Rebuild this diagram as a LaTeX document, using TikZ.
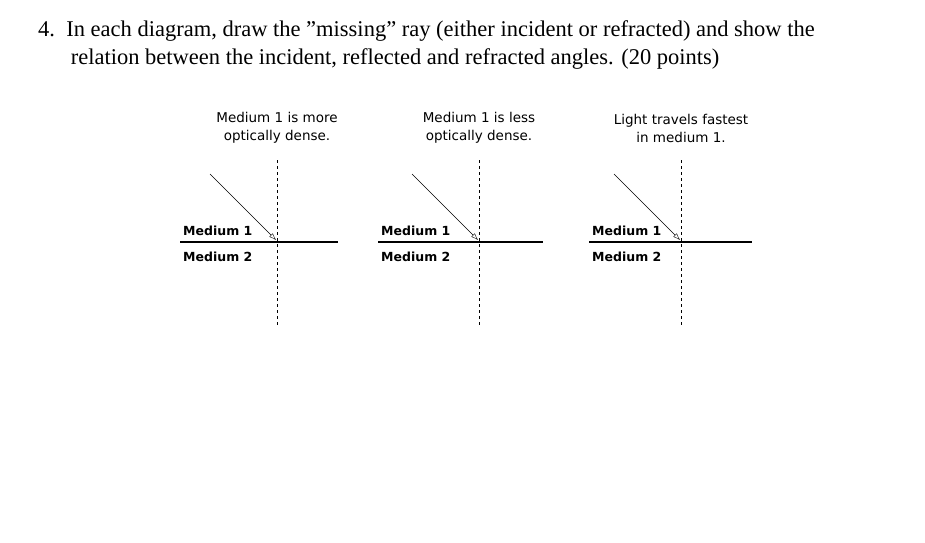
\documentclass[tikz,border=0pt]{standalone}
\usepackage{fontspec}
\usetikzlibrary{arrows.meta}
\setmainfont{Liberation Serif}
\newfontfamily\dsans{DejaVu Sans}
\begin{document}
\begin{tikzpicture}[x=1pt,y=-1pt,
  title/.style={font=\dsans\fontsize{13.5}{18}\selectfont,align=center},
  med/.style={font=\dsans\bfseries\fontsize{12.5}{14}\selectfont,anchor=west,inner sep=0pt},
  normal/.style={dashed,dash pattern=on 3pt off 3pt,thick},
  surf/.style={line width=1.8pt},
  ray/.style={-{Latex[length=7pt,width=5pt,open]},thin}]
\useasboundingbox (0,0) rectangle (925,542);
\node[anchor=north west,inner sep=0pt,font=\fontsize{22.5}{28}\selectfont,align=left] (q) at (38,20)
 {4.\hspace{0.5em}In each diagram, draw the \symbol{34}missing\symbol{34} ray (either incident or refracted) and show the\\
 \hspace{1.45em}relation between the incident, reflected and refracted angles. (20 points)};
\foreach \i/\nx/\sl/\sr/\ta/\tb in {1/277/180/338/Medium 1 is more/optically dense.,
  2/479/378/543/Medium 1 is less/optically dense.,
  3/681/589/752/Light travels fastest/in medium 1.}{
  \node[title] (t\i) at (\nx,128) {\ta\\\tb};
  \coordinate (n\i a) at (\nx,160);
  \coordinate (n\i b) at (\nx,326);
  \coordinate (o\i) at (\nx-1,240);
  \coordinate (sl\i) at (\sl,242);
  \coordinate (sr\i) at (\sr,242);
  \coordinate (r\i) at (\nx-67,174);
  \draw[normal] (n\i a) -- (n\i b);
  \draw[surf] (sl\i) -- (sr\i);
  \draw[ray] (r\i) -- (o\i);
  \node[med] (m\i a) at (\sl+3,231) {Medium 1};
  \node[med] (m\i b) at (\sl+3,257) {Medium 2};
}
\end{tikzpicture}
\end{document}
